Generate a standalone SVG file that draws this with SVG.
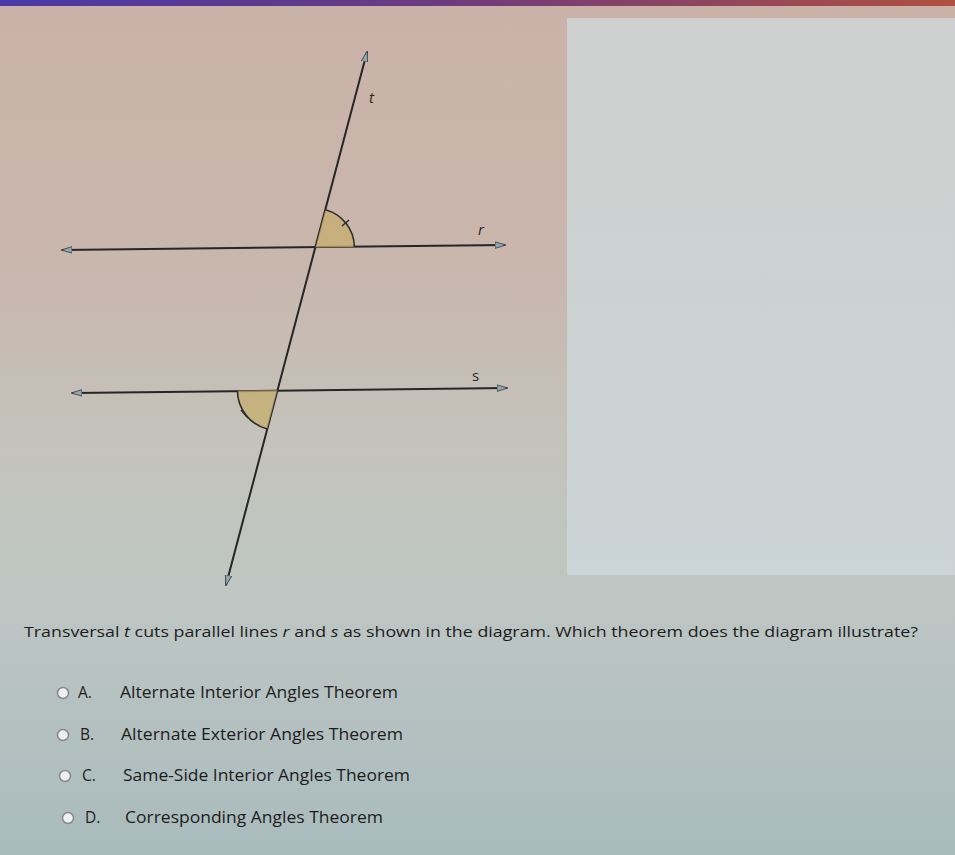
<svg xmlns="http://www.w3.org/2000/svg" width="955" height="855" viewBox="0 0 955 855">
<defs>
<linearGradient id="bg" x1="0" y1="0" x2="0" y2="1">
<stop offset="0" stop-color="#cbb2a8"/>
<stop offset="0.3" stop-color="#c9b6ad"/>
<stop offset="0.5" stop-color="#c4c2ba"/>
<stop offset="0.7" stop-color="#bec6c3"/>
<stop offset="1" stop-color="#a9bbbd"/>
</linearGradient>
<linearGradient id="panel" x1="0" y1="0" x2="0" y2="1">
<stop offset="0" stop-color="#cdd0ce"/>
<stop offset="1" stop-color="#cbd4d6"/>
</linearGradient>
<linearGradient id="topbar" x1="0" y1="0" x2="1" y2="0">
<stop offset="0" stop-color="#4a3aa8"/>
<stop offset="0.45" stop-color="#6a3a80"/>
<stop offset="1" stop-color="#b05040"/>
</linearGradient>
<marker id="ah" viewBox="0 0 12 8" refX="10" refY="4" markerWidth="12" markerHeight="8" markerUnits="userSpaceOnUse" orient="auto-start-reverse">
<path d="M0,0.8 L11,4 L0,7.2 Z" fill="#8fa6b4" stroke="#3a3a3a" stroke-width="0.8"/>
</marker>
<style>
.ln{stroke:#262626;stroke-width:2;fill:none;marker-start:url(#ah);marker-end:url(#ah)}
.ang{fill:#c6ae6e;fill-opacity:0.75;stroke:none}
.arc{fill:none;stroke:#2e2e2e;stroke-width:1.6}
.lbl{font-family:"Open Sans","DejaVu Sans",sans-serif;font-size:15px;fill:#2a2a2a}
.q{font-family:"Open Sans","Liberation Sans",sans-serif;font-size:15px;fill:#1c1c1c}
.opt{font-family:"Open Sans","Liberation Sans",sans-serif;font-size:15.5px;fill:#1c1c1c}
.radio{fill:#eef1f1;stroke:#888;stroke-width:1.5}
</style>
</defs>
<rect width="955" height="855" fill="url(#bg)"/>
<rect x="0" y="0" width="955" height="6" fill="url(#topbar)"/>
<rect x="567" y="18" width="388" height="557" fill="url(#panel)"/>

<g id="connectors">
<path class="ln" d="M367,52 L226,585"/>
<path class="ln" d="M62,250 L505,245"/>
<path class="ln" d="M72,393 L507,388"/>
</g>

<g id="angle-r">
<path class="ang" d="M315.4,247.5 L354.4,247.1 A39,39 0 0 0 325.4,209.8 Z"/>
<path class="arc" d="M354.4,247.1 A39,39 0 0 0 325.4,209.8"/>
<path class="arc" d="M342,226 L349,220"/>
</g>
<g id="angle-s">
<path class="ang" d="M277.4,390.3 L237.4,390.8 A40,40 0 0 0 267.2,429 Z"/>
<path class="arc" d="M237.4,390.8 A40,40 0 0 0 267.2,429"/>
<path class="arc" d="M241,410 L248,418"/>
</g>

<g id="label-t"><text class="lbl" x="369" y="103" font-style="italic">t</text></g>
<g id="label-r"><text class="lbl" x="478" y="235" font-style="italic">r</text></g>
<g id="label-s"><text class="lbl" x="472" y="381">s</text></g>

<g id="question">
<text class="q" x="24" y="637" textLength="894" lengthAdjust="spacingAndGlyphs">Transversal <tspan font-style="italic">t</tspan> cuts parallel lines <tspan font-style="italic">r</tspan> and <tspan font-style="italic">s</tspan> as shown in the diagram. Which theorem does the diagram illustrate?</text>
</g>

<g id="option-a">
<circle class="radio" cx="63" cy="693" r="5.5"/>
<text class="opt" x="78" y="698">A.</text>
<text class="opt" x="120" y="698" textLength="278" lengthAdjust="spacingAndGlyphs">Alternate Interior Angles Theorem</text>
</g>
<g id="option-b">
<circle class="radio" cx="63" cy="735" r="5.5"/>
<text class="opt" x="80" y="740">B.</text>
<text class="opt" x="121" y="740" textLength="282" lengthAdjust="spacingAndGlyphs">Alternate Exterior Angles Theorem</text>
</g>
<g id="option-c">
<circle class="radio" cx="65" cy="776" r="5.5"/>
<text class="opt" x="82" y="781">C.</text>
<text class="opt" x="123" y="781" textLength="287" lengthAdjust="spacingAndGlyphs">Same-Side Interior Angles Theorem</text>
</g>
<g id="option-d">
<circle class="radio" cx="68" cy="818" r="5.5"/>
<text class="opt" x="85" y="823">D.</text>
<text class="opt" x="125" y="823" textLength="258" lengthAdjust="spacingAndGlyphs">Corresponding Angles Theorem</text>
</g>
</svg>
